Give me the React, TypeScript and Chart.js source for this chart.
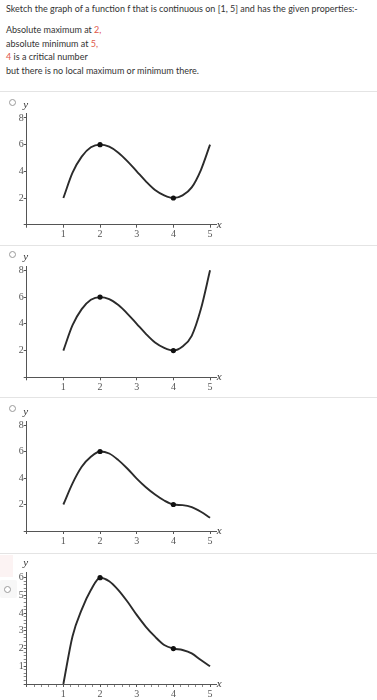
import React, { useEffect, useRef } from 'react';
import { Chart, registerables } from 'chart.js';

Chart.register(...registerables);

// ---------- text ----------
const questionText = 'Sketch the graph of a function f that is continuous on [1, 5] and has the given properties:-';
const propertyLines: Array<[string, string, string]> = [
  ['Absolute maximum at ', '2,', ''],
  ['absolute minimum at ', '5,', ''],
  ['', '4', ' is a critical number'],
  ['but there is no local maximum or minimum there.', '', ''],
];

// ---------- data ----------
const xValues = [1, 1.25, 1.5, 1.75, 2, 2.25, 2.5, 2.75, 3, 3.25, 3.5, 3.75, 4, 4.25, 4.5, 4.75, 5];
const curveA = [2, 3.9, 5.1, 5.8, 6, 5.85, 5.4, 4.75, 4, 3.25, 2.6, 2.2, 2, 2.2, 2.8, 4.1, 6];
const curveB = [2, 3.9, 5.1, 5.8, 6, 5.85, 5.4, 4.75, 4, 3.25, 2.6, 2.2, 2, 2.3, 3.1, 5.1, 8];
const curveC = [2, 3.6, 4.85, 5.6, 6, 5.85, 5.35, 4.7, 3.95, 3.3, 2.75, 2.3, 2, 1.95, 1.8, 1.45, 1];
const curveD = [0, 2.7, 4.2, 5.3, 6, 5.8, 5.3, 4.64, 3.9, 3.23, 2.67, 2.2, 2, 1.92, 1.73, 1.35, 1];
const markedX = [2, 4];
const xTickLabels = [1, 2, 3, 4, 5];
const yTickLabelsEven = [2, 4, 6, 8];
const yTickLabelsAll = [1, 2, 3, 4, 5, 6];

// ---------- layout (page pixels) ----------
const CANVAS_W = 240;
const AXIS_X0 = 26.7;
const X_MAX = 5.17;
const X_UNIT = 36.67;

type GraphProps = {
  values: number[];
  yLabels: number[];
  yMax: number;
  yUnit: number;
  yZero: number;
  top: number;
  height: number;
  minor: boolean;
};

const near = (v: number, t: number) => Math.abs(v - t) < 1e-6;
const fifths = (upTo: number) => Array.from({ length: Math.round(upTo * 5) + 1 }, (_, i) => i / 5);

function Graph({ values, yLabels, yMax, yUnit, yZero, top, height, minor }: GraphProps) {
  const ref = useRef<HTMLCanvasElement>(null);
  useEffect(() => {
    if (!ref.current) return;
    const points = xValues.map((x, i) => ({ x, y: values[i] }));
    const marks = points.filter((p) => markedX.includes(p.x));
    const padTop = yZero - top - yMax * yUnit;
    const xAxisH = height - (yZero - top);
    const padRight = CANVAS_W - AXIS_X0 - X_MAX * X_UNIT;
    const tickCol = '#555';
    const xTickValues = minor ? fifths(xTickLabels[xTickLabels.length - 1]) : [0, ...xTickLabels];
    const yTickValues = minor ? fifths(yLabels[yLabels.length - 1]) : [0, ...yLabels];

    const labelPlugin = {
      id: 'axisNames',
      afterDraw(chart: any) {
        const { ctx, chartArea, scales } = chart;
        ctx.save();
        ctx.fillStyle = '#333';
        ctx.font = 'italic 11px "Liberation Serif", serif';
        ctx.textAlign = 'center';
        ctx.textBaseline = 'middle';
        ctx.fillText('y', scales.x.getPixelForValue(0) - 1, chartArea.top - 9);
        ctx.fillText('x', chartArea.right + 3, scales.y.getPixelForValue(0));
        ctx.restore();
      },
    };

    const tickColorFor = (labels: number[]) => (c: any) => {
      const v = c.tick ? c.tick.value : -1;
      if (near(v, 0) || labels.some((t) => near(v, t))) return tickCol;
      return '#888';
    };

    const tickFont = { family: '"Liberation Serif", serif', size: 10 };

    const chart = new Chart(ref.current, {
      type: 'line',
      data: {
        datasets: [
          {
            data: marks,
            showLine: false,
            pointRadius: 2.6,
            pointBackgroundColor: '#111',
            pointBorderWidth: 0,
          },
          {
            data: points,
            borderColor: '#2b2b2b',
            borderWidth: 1.9,
            pointRadius: 0,
            cubicInterpolationMode: 'monotone',
            fill: false,
          },
        ],
      } as any,
      options: {
        animation: false,
        responsive: false,
        events: [],
        layout: { padding: { top: padTop, right: padRight, left: 0, bottom: 0 } },
        plugins: { legend: { display: false }, tooltip: { enabled: false } },
        scales: {
          x: {
            type: 'linear',
            min: 0,
            max: X_MAX,
            afterFit: (s: any) => {
              s.height = xAxisH;
            },
            afterBuildTicks: (s: any) => {
              s.ticks = xTickValues.map((value) => ({ value }));
            },
            border: { display: true, color: '#555', width: 1 },
            grid: {
              display: true,
              drawOnChartArea: false,
              drawTicks: true,
              tickLength: 3,
              tickColor: tickColorFor(xTickLabels),
            },
            ticks: {
              autoSkip: false,
              maxRotation: 0,
              padding: 1,
              color: '#555',
              font: tickFont,
              callback: (v: any) => {
                const t = xTickLabels.find((l) => near(Number(v), l));
                return t === undefined ? '' : String(t);
              },
            },
          },
          y: {
            type: 'linear',
            min: 0,
            max: yMax,
            afterFit: (s: any) => {
              s.width = AXIS_X0;
            },
            afterBuildTicks: (s: any) => {
              s.ticks = yTickValues.map((value) => ({ value }));
            },
            border: { display: true, color: '#555', width: 1 },
            grid: {
              display: true,
              drawOnChartArea: false,
              drawTicks: true,
              tickLength: 3,
              tickColor: tickColorFor(yLabels),
            },
            ticks: {
              autoSkip: false,
              padding: 0,
              color: '#555',
              font: tickFont,
              callback: (v: any) => {
                const t = yLabels.find((l) => near(Number(v), l));
                return t === undefined ? '' : String(t);
              },
            },
          },
        },
      } as any,
      plugins: [labelPlugin],
    });
    return () => chart.destroy();
  }, []);
  return (
    <canvas
      ref={ref}
      width={CANVAS_W}
      height={height}
      style={{ position: 'absolute', left: 0, top, width: CANVAS_W, height }}
    />
  );
}

function Radio({ cx, cy }: { cx: number; cy: number }) {
  return (
    <div
      style={{
        position: 'absolute',
        left: cx - 3.5,
        top: cy - 3.5,
        width: 7,
        height: 7,
        boxSizing: 'border-box',
        border: '1px solid #9a9a9a',
        borderRadius: '50%',
        background: '#fff',
      }}
    />
  );
}

function Rule({ y }: { y: number }) {
  return (
    <div
      style={{ position: 'absolute', left: 0, top: y, width: 377, height: 1.5, background: '#e4e4e4' }}
    />
  );
}

export default function App() {
  const textStyle: React.CSSProperties = {
    position: 'absolute',
    left: 6,
    fontFamily: 'Lato, sans-serif',
    fontSize: 9,
    lineHeight: '13.5px',
    color: '#333',
    whiteSpace: 'nowrap',
  };
  return (
    <div style={{ position: 'relative', width: 377, height: 700, overflow: 'hidden', background: '#fff' }}>
      <style>{'body{margin:0;}'}</style>
      <div style={{ ...textStyle, top: 2.2 }}>{questionText}</div>
      <div style={{ ...textStyle, top: 23.2 }}>
        {propertyLines.map((l, i) => (
          <div key={i}>
            {l[0]}
            <span style={{ color: '#e0574a' }}>{l[1]}</span>
            {l[2]}
          </div>
        ))}
      </div>

      <Rule y={90.5} />
      <Radio cx={12.3} cy={102} />
      <Graph values={curveA} yLabels={yTickLabelsEven} yMax={8.3} yUnit={13.34} yZero={224.7} top={93} height={151} minor={false} />

      <Rule y={244.5} />
      <Radio cx={12.3} cy={254} />
      <Graph values={curveB} yLabels={yTickLabelsEven} yMax={8.3} yUnit={13.37} yZero={377.3} top={247} height={149} minor={false} />

      <Rule y={396.5} />
      <Radio cx={12.3} cy={408} />
      <Graph values={curveC} yLabels={yTickLabelsEven} yMax={8.3} yUnit={13.25} yZero={531} top={399} height={152} minor={false} />

      <Rule y={552.5} />
      <div style={{ position: 'absolute', left: 0, top: 555, width: 13, height: 22, background: '#fcf3f3' }} />
      <div style={{ position: 'absolute', left: 0, top: 580, width: 17, height: 18, background: '#f7f7f7', borderRadius: 2 }} />
      <Radio cx={7} cy={589} />
      <Graph values={curveD} yLabels={yTickLabelsAll} yMax={6.3} yUnit={17.72} yZero={684} top={555} height={145} minor={true} />
    </div>
  );
}
